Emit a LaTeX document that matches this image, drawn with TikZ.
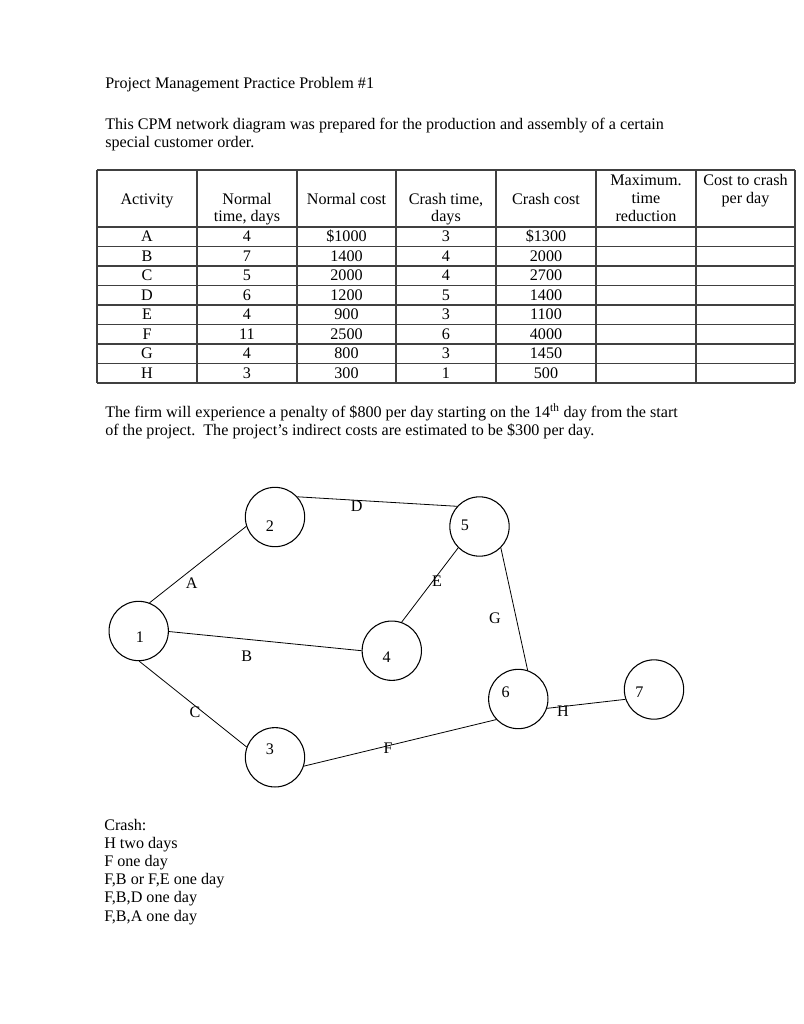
\documentclass[tikz,border=0pt]{standalone}
\usepackage{fontspec}
\setmainfont{Liberation Serif}
\begin{document}
\begin{tikzpicture}[x=0.75pt,y=-0.75pt,
  every node/.style={font=\fontsize{12.1}{13.8}\selectfont, inner sep=0pt},
  txt/.style={anchor=base west},
  cell/.style={anchor=base},
  grid/.style={draw=black!75, line width=0.9pt},
  event/.style={circle, draw=black, line width=0.8pt, minimum size=44.5pt},
  act/.style={draw=black, line width=0.6pt},
  lab/.style={anchor=center}]
\useasboundingbox (0,0) rectangle (803,1024);
% heading text
\node[txt] (title) at (105,89) {Project Management Practice Problem \#1};
\node[txt] (intro1) at (105,129) {This CPM network diagram was prepared for the production and assembly of a certain};
\node[txt] (intro2) at (105,147) {special customer order.};
% table grid
\foreach \yy in {170,227,246.5,266,285.5,305,324.5,344,363.5,383}
  \draw[grid] (97,\yy) -- (795,\yy);
\foreach \xx in {97,197,297,396,496,596,696,795}
  \draw[grid] (\xx,170) -- (\xx,383);
% header
\node[cell] (h1) at (147,204) {Activity};
\node[cell] (h2a) at (247,204) {Normal};
\node[cell] (h2b) at (247,221) {time, days};
\node[cell] (h3) at (346.5,204) {Normal cost};
\node[cell] (h4a) at (446,204) {Crash time,};
\node[cell] (h4b) at (446,221) {days};
\node[cell] (h5) at (546,204) {Crash cost};
\node[cell] (h6a) at (646,185) {Maximum.};
\node[cell] (h6b) at (646,203) {time};
\node[cell] (h6c) at (646,221) {reduction};
\node[cell] (h7a) at (745.5,185) {Cost to crash};
\node[cell] (h7b) at (745.5,203) {per day};
% rows
\foreach \a/\b/\c/\d/\e [count=\i from 0] in
  {A/4/\$1000/3/\$1300, B/7/1400/4/2000, C/5/2000/4/2700, D/6/1200/5/1400,
   E/4/900/3/1100, F/11/2500/6/4000, G/4/800/3/1450, H/3/300/1/500}{
  \pgfmathsetmacro{\yb}{236.75+19.5*\i+5}
  \node[cell] (ra\i) at (147,\yb) {\a};
  \node[cell] (rb\i) at (247,\yb) {\b};
  \node[cell] (rc\i) at (346.5,\yb) {\c};
  \node[cell] (rd\i) at (446,\yb) {\d};
  \node[cell] (re\i) at (546,\yb) {\e};
}
% penalty text
\node[txt] (pen1) at (105,417) {The firm will experience a penalty of \$800 per day starting on the 14\textsuperscript{th} day from the start};
\node[txt] (pen2) at (105,435) {of the project.\ \ The project’s indirect costs are estimated to be \$300 per day.};
% network
\node[event] (n1) at (138.7,631) {};
\node[event] (n2) at (275,517) {};
\node[event] (n3) at (275,757.3) {};
\node[event] (n4) at (391.8,650.7) {};
\node[event] (n5) at (479.5,526.5) {};
\node[event] (n6) at (518.3,699) {};
\node[event] (n7) at (654,689.5) {};
\node[lab] (l1) at (140,636.7) {1};
\node[lab] (l2) at (270,526) {2};
\node[lab] (l3) at (270,749.3) {3};
\node[lab] (l4) at (386.7,656.7) {4};
\node[lab] (l5) at (465,525) {5};
\node[lab] (l6) at (505.7,692.7) {6};
\node[lab] (l7) at (639.3,692.7) {7};
\draw[act] (n1.69) -- (n2.198);
\draw[act] (n1.359) -- (n4.180);
\draw[act] (n1.271) -- (n3.160);
\draw[act] (n2.42) -- (n5.138);
\draw[act] (n4.71) -- (n5.225);
\draw[act] (n3.343) -- (n6.223);
\draw[act] (n5.315) -- (n6.72);
\draw[act] (n6.342) -- (n7.199);
\node[lab] (eA) at (191.7,582.7) {A};
\node[lab] (eB) at (246.7,656) {B};
\node[lab] (eC) at (195,712.7) {C};
\node[lab] (eD) at (356.7,506.7) {D};
\node[lab] (eE) at (437,581.7) {E};
\node[lab] (eF) at (388,748) {F};
\node[lab] (eG) at (495,618) {G};
\node[lab] (eH) at (563,711.7) {H};
% crash list
\node[txt] (c0) at (104,830) {Crash:};
\node[txt] (c1) at (104,848.2) {H two days};
\node[txt] (c2) at (104,866.4) {F one day};
\node[txt] (c3) at (104,884.6) {F,B or F,E one day};
\node[txt] (c4) at (104,902.8) {F,B,D one day};
\node[txt] (c5) at (104,921) {F,B,A one day};
\end{tikzpicture}
\end{document}
